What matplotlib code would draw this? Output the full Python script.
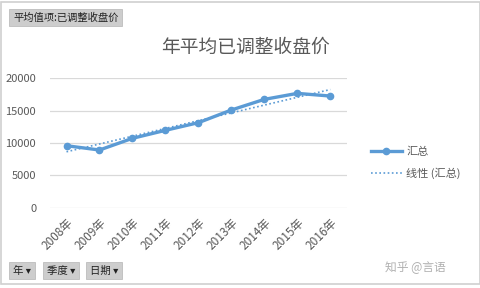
import numpy as np
import matplotlib.pyplot as plt
from matplotlib.lines import Line2D
from matplotlib.patches import Rectangle

plt.rcParams['font.family'] = ['Noto Sans CJK SC', 'DejaVu Sans']

years = ['2008年', '2009年', '2010年', '2011年', '2012年', '2013年', '2014年', '2015年', '2016年']
avg_close = [9580, 8920, 10720, 11950, 13130, 15080, 16720, 17640, 17230]

BLUE = '#5B9BD5'
TXT = '#595959'
GRID = '#D9D9D9'

fig = plt.figure(figsize=(4.81, 2.88), dpi=100)
fig.patch.set_facecolor('white')

# outer frame
fig.add_artist(Rectangle((0.003, 0.015), 0.994, 0.978, transform=fig.transFigure,
                         fill=False, edgecolor='#D0D0D0', linewidth=1.2))

ax = fig.add_axes([0.104, 0.278, 0.617, 0.451])
x = np.arange(len(years))
ax.plot(x, avg_close, color=BLUE, linewidth=2.4, marker='o', markersize=4.5, zorder=3)

# linear trend line (least squares, like Excel)
k, b = np.polyfit(x, avg_close, 1)
ax.plot(x, k * x + b, color=BLUE, linewidth=1.2, linestyle=(0, (1, 1.5)), zorder=2)

ax.set_xlim(-0.5, len(years) - 0.5)
ax.set_ylim(0, 20000)
ax.set_yticks([0, 5000, 10000, 15000, 20000])
ax.yaxis.grid(True, color=GRID, linewidth=0.9)
ax.set_axisbelow(True)
for s in ax.spines.values():
    s.set_visible(False)
ax.tick_params(axis='both', length=0, colors=TXT, labelsize=8)
ax.tick_params(axis='y', pad=10)
ax.set_xticks(x)
ax.set_xticklabels(years, rotation=45, ha='right', va='top', rotation_mode='anchor', fontsize=8.5)
ax.tick_params(axis='x', pad=6)

fig.text(0.51, 0.835, '年平均已调整收盘价', ha='center', va='center', fontsize=13.5, color=TXT)

# legend
handles = [Line2D([], [], color=BLUE, linewidth=2.4, marker='o', markersize=4.5),
           Line2D([], [], color=BLUE, linewidth=1.2, linestyle=(0, (1, 1.5)))]
fig.legend(handles, ['汇总', '线性 (汇总)'], loc='center left', bbox_to_anchor=(0.75, 0.435),
           frameon=False, fontsize=8, labelcolor=TXT, handlelength=2.8, handletextpad=0.4,
           labelspacing=0.9)

# pivot field buttons
btn = dict(boxstyle='square,pad=0.35', facecolor='#CDCDCD', edgecolor='#BDBDBD', linewidth=0.6)
fig.text(0.027, 0.94, '平均值项:已调整收盘价', ha='left', va='center', fontsize=7.4,
         color='#222222', bbox=btn)
fig.text(0.027, 0.06, '年 ▾', ha='left', va='center', fontsize=7.5, color='#222222', bbox=btn)
fig.text(0.097, 0.06, '季度 ▾', ha='left', va='center', fontsize=7.5, color='#222222', bbox=btn)
fig.text(0.187, 0.06, '日期 ▾', ha='left', va='center', fontsize=7.5, color='#222222', bbox=btn)

fig.text(0.80, 0.07, '知乎 @言语', ha='left', va='center', fontsize=8.5, color='#B0B0B0')

fig.savefig('out.png', dpi=100)
